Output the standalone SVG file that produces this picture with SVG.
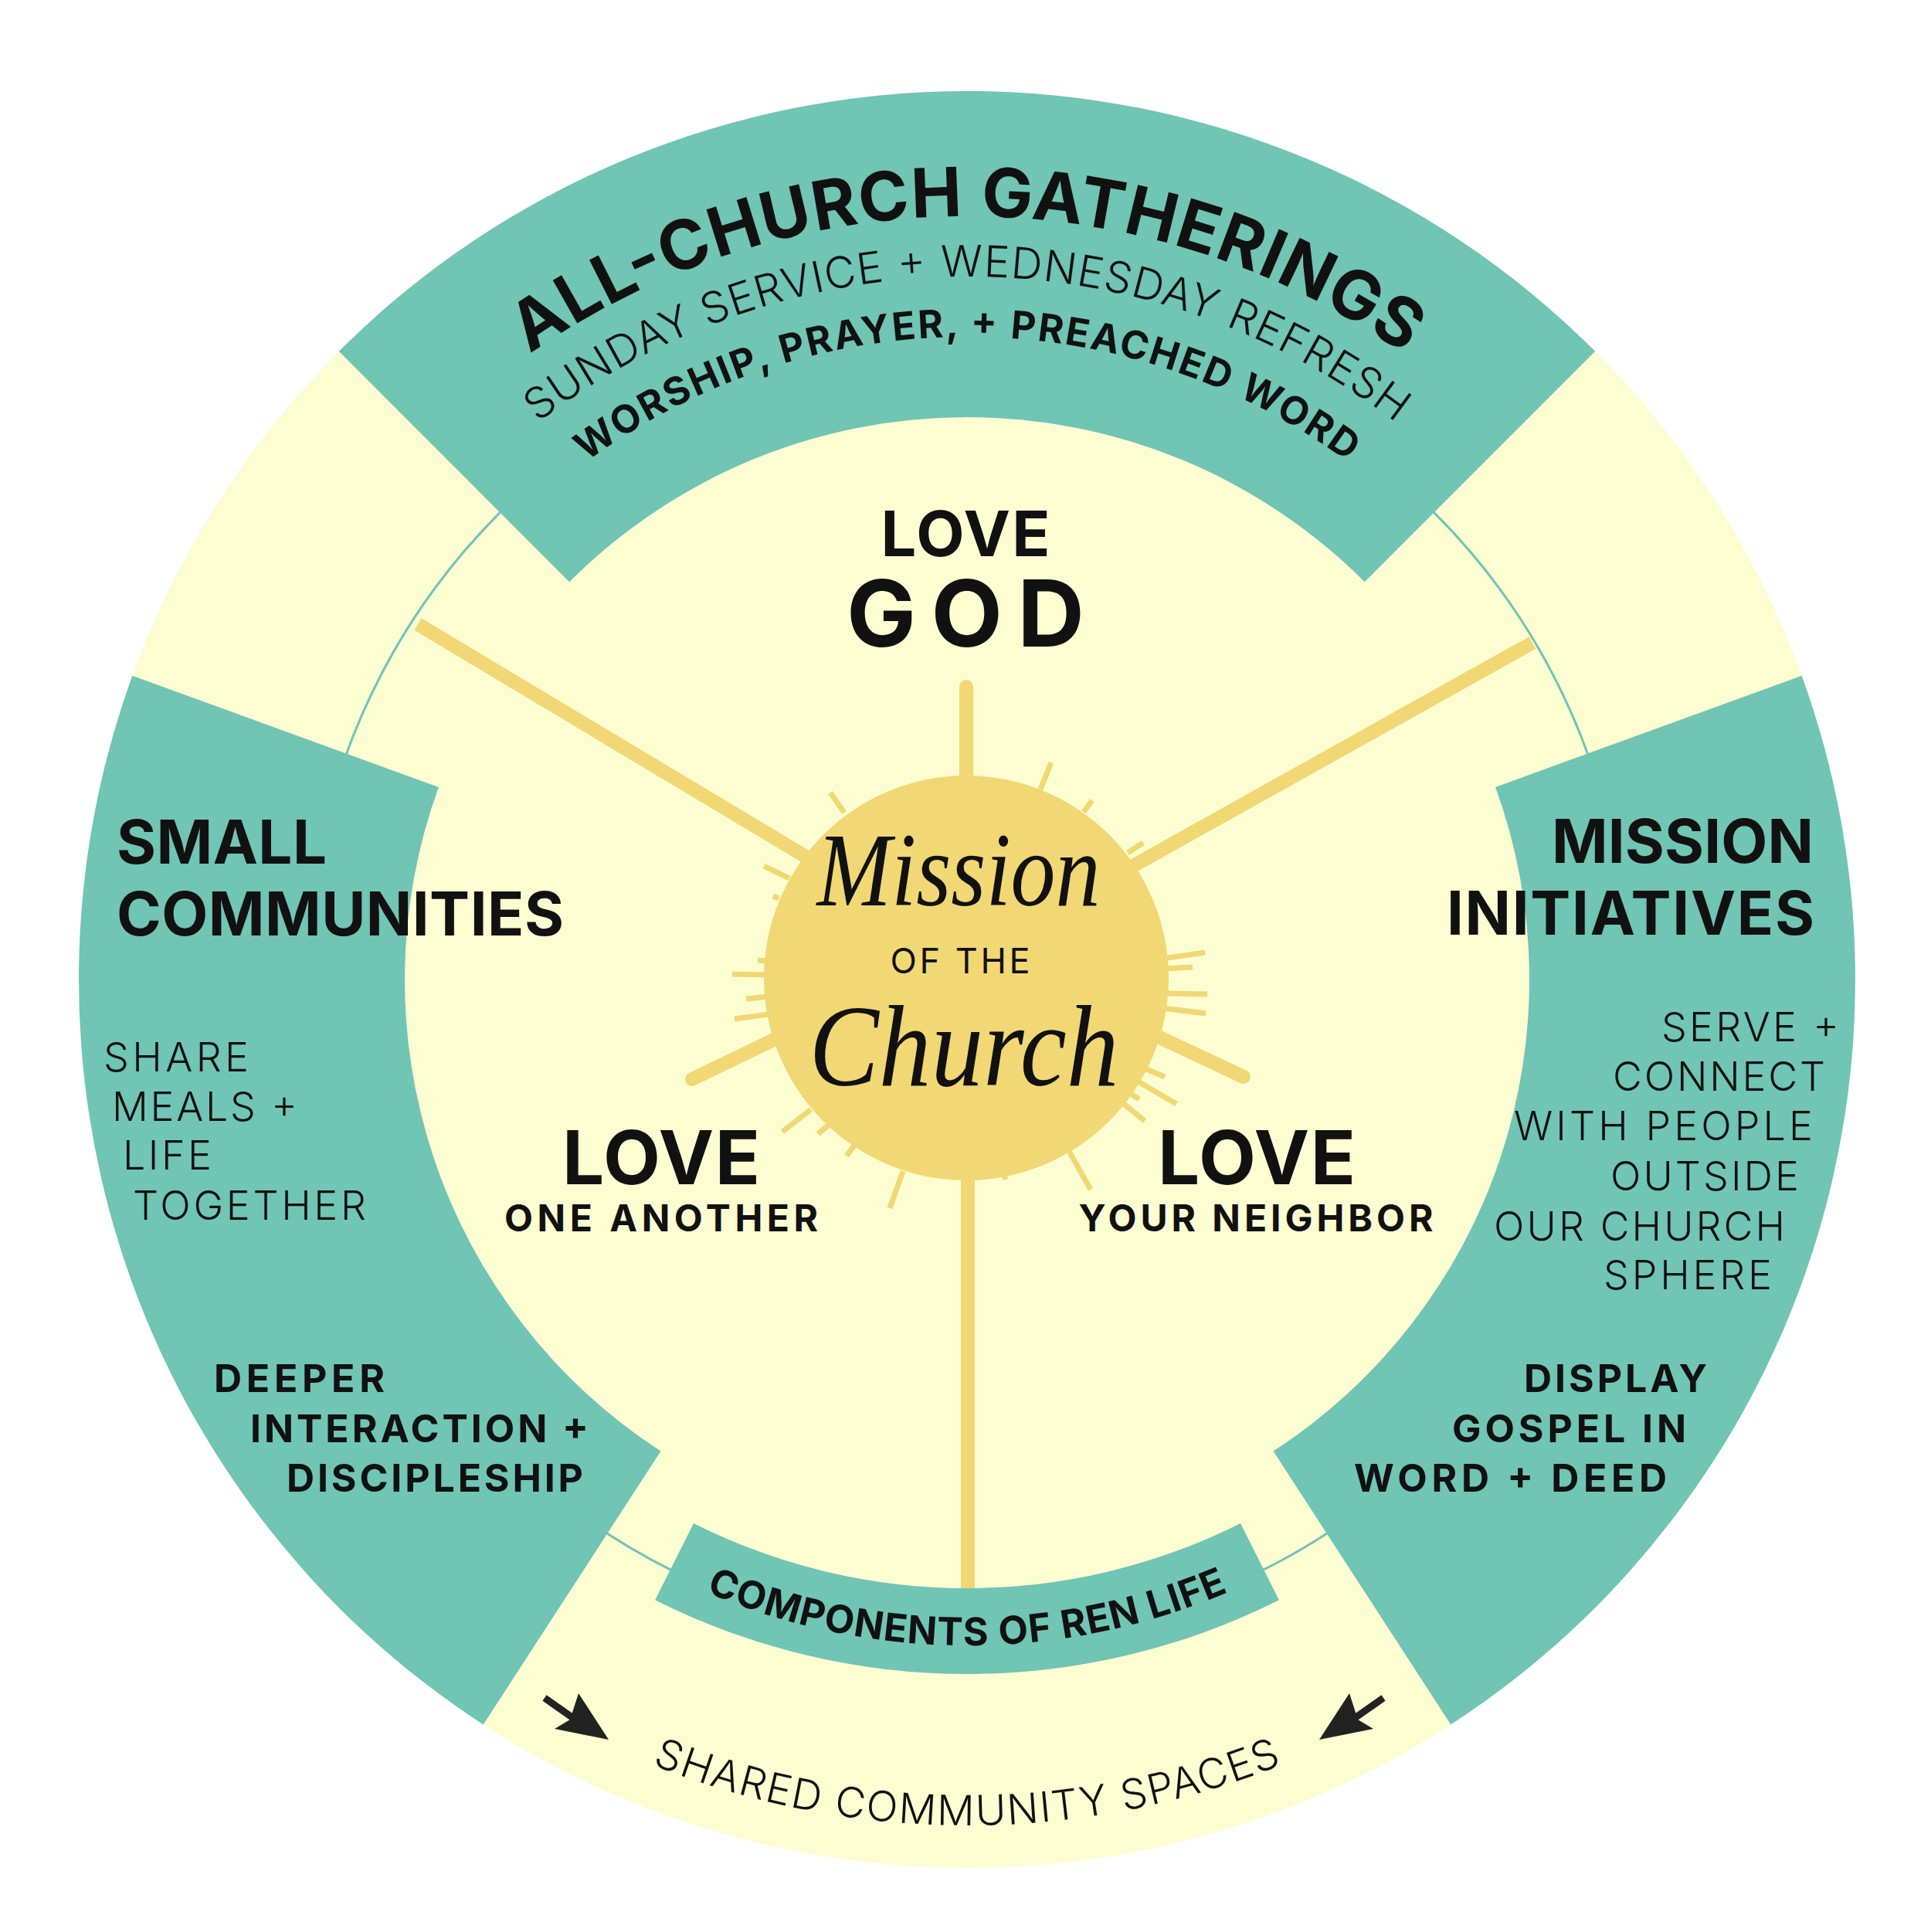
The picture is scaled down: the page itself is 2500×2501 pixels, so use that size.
<svg xmlns="http://www.w3.org/2000/svg" width="2500" height="2501" viewBox="0 0 2500 2501">
<style>
.teal{fill:#70C5B5}
.cream{fill:#FDFDD2}
.sun{fill:#F1D874}
.ray{stroke:#F1D874;stroke-width:18;fill:none}
.thin{stroke:#F1D874;stroke-width:7;fill:none}
.ring{stroke:#70C5B5;stroke-width:3;fill:none}
text{font-family:Inter,"Noto Sans","Liberation Sans",sans-serif;fill:#111}
.b{font-weight:700}
.l{font-weight:300}
.script{font-family:"Liberation Serif","DejaVu Serif",serif;font-style:italic;font-weight:400}
.arrow{fill:#222}
</style>
<defs>
<path id="pTop1" d="M 264,1268 A 988 988 0 0 1 2240,1268"/>
<path id="pTop2" d="M 342,1268 A 910 910 0 0 1 2162,1268"/>
<path id="pTop3" d="M 420,1268 A 832 832 0 0 1 2084,1268"/>
<path id="pComp" d="M 390,1268 A 862 862 0 0 0 2114,1268"/>
<path id="pShared" d="M 157,1268 A 1095 1095 0 0 0 2347,1268"/>
</defs>
<rect width="2500" height="2501" fill="#FFFFFF"/>
<g id="background">
<circle class="cream" cx="1252" cy="1268" r="1150"/>
<circle class="ring" cx="1252" cy="1268" r="855"/>
</g>
<g id="all-church-gatherings">
<path class="teal" d="M 438.8,454.8 A 1150 1150 0 0 1 2065.2,454.8 L 1766.8,753.2 A 728 728 0 0 0 737.2,753.2 Z"/>
<text class="b" font-size="88"><textPath href="#pTop1" startOffset="50%" text-anchor="middle" textLength="1205" lengthAdjust="spacing">ALL-CHURCH GATHERINGS</textPath></text>
<text class="l" font-size="56"><textPath href="#pTop2" startOffset="50%" text-anchor="middle" textLength="1195" lengthAdjust="spacing">SUNDAY SERVICE + WEDNESDAY REFRESH</textPath></text>
<text class="b" font-size="50"><textPath href="#pTop3" startOffset="50%" text-anchor="middle" textLength="1055" lengthAdjust="spacing">WORSHIP, PRAYER, + PREACHED WORD</textPath></text>
</g>
<g id="small-communities">
<path class="teal" d="M 625.7,2232.5 A 1150 1150 0 0 1 171.4,874.7 L 567.9,1019 A 728 728 0 0 0 855.5,1878.6 Z"/>
<text class="b" font-size="78" x="151" y="1118" textLength="272" lengthAdjust="spacing">SMALL</text>
<text class="b" font-size="78" x="151" y="1211" textLength="579" lengthAdjust="spacing">COMMUNITIES</text>
<text class="l" font-size="52" x="134" y="1387" textLength="188" lengthAdjust="spacing">SHARE</text>
<text class="l" font-size="52" x="145" y="1451" textLength="240" lengthAdjust="spacing">MEALS +</text>
<text class="l" font-size="52" x="159" y="1514" textLength="115" lengthAdjust="spacing">LIFE</text>
<text class="l" font-size="52" x="172" y="1579" textLength="302" lengthAdjust="spacing">TOGETHER</text>
<text class="b" font-size="50" x="277" y="1802" textLength="221" lengthAdjust="spacing">DEEPER</text>
<text class="b" font-size="50" x="324" y="1867" textLength="438" lengthAdjust="spacing">INTERACTION +</text>
<text class="b" font-size="50" x="371" y="1931" textLength="384" lengthAdjust="spacing">DISCIPLESHIP</text>
</g>
<g id="mission-initiatives">
<path class="teal" d="M 2332.6,874.7 A 1150 1150 0 0 1 1878.3,2232.5 L 1648.5,1878.6 A 728 728 0 0 0 1936.1,1019 Z"/>
<text class="b" font-size="78" x="2009" y="1117" textLength="339" lengthAdjust="spacing">MISSION</text>
<text class="b" font-size="78" x="1873" y="1210" textLength="476" lengthAdjust="spacing">INITIATIVES</text>
<text class="l" font-size="52" x="2151" y="1348" textLength="230" lengthAdjust="spacing">SERVE +</text>
<text class="l" font-size="52" x="2088" y="1412" textLength="275" lengthAdjust="spacing">CONNECT</text>
<text class="l" font-size="52" x="1960" y="1476" textLength="387" lengthAdjust="spacing">WITH PEOPLE</text>
<text class="l" font-size="52" x="2085" y="1541" textLength="244" lengthAdjust="spacing">OUTSIDE</text>
<text class="l" font-size="52" x="1934" y="1606" textLength="377" lengthAdjust="spacing">OUR CHURCH</text>
<text class="l" font-size="52" x="2076" y="1669" textLength="218" lengthAdjust="spacing">SPHERE</text>
<text class="b" font-size="50" x="1973" y="1802" textLength="237" lengthAdjust="spacing">DISPLAY</text>
<text class="b" font-size="50" x="1880" y="1867" textLength="303" lengthAdjust="spacing">GOSPEL IN</text>
<text class="b" font-size="50" x="1753" y="1931" textLength="405" lengthAdjust="spacing">WORD + DEED</text>
</g>
<g id="components-of-ren-life">
<path class="teal" d="M 1655.9,2071.2 A 899 899 0 0 1 848.1,2071.2 L 898,1972 A 788 788 0 0 0 1606,1972 Z"/>
<text class="b" font-size="50"><textPath href="#pComp" startOffset="50%" text-anchor="middle" textLength="695" lengthAdjust="spacing">COMPONENTS OF REN LIFE</textPath></text>
</g>
<g id="connectors">
<line class="ray" x1="1251" y1="889" x2="1251" y2="1020" stroke-linecap="round"/>
<line class="ray" x1="1253" y1="1500" x2="1253" y2="2056"/>
<line class="ray" x1="541" y1="808" x2="1045" y2="1110"/>
<line class="ray" x1="1984" y1="832" x2="1465" y2="1122"/>
<line class="ray" x1="896" y1="1397" x2="1010" y2="1342" stroke-linecap="round"/>
<line class="ray" x1="1610" y1="1394" x2="1495" y2="1340" stroke-linecap="round"/>
<g id="small-rays">
<line class="thin" x1="1347" y1="1022" x2="1361" y2="987"/>
<line class="thin" x1="1403" y1="1051" x2="1414" y2="1036"/>
<line class="thin" x1="1460" y1="1104" x2="1480" y2="1091"/>
<line class="thin" x1="1505" y1="1241" x2="1560" y2="1233"/>
<line class="thin" x1="1505" y1="1254" x2="1544" y2="1252"/>
<line class="thin" x1="1505" y1="1286" x2="1563" y2="1287"/>
<line class="thin" x1="1505" y1="1305" x2="1561" y2="1312"/>
<line class="thin" x1="1484" y1="1384" x2="1508" y2="1394"/>
<line class="thin" x1="1475" y1="1401" x2="1523" y2="1429"/>
<line class="thin" x1="1464" y1="1416" x2="1475" y2="1423"/>
<line class="thin" x1="1455" y1="1429" x2="1482" y2="1451"/>
<line class="thin" x1="1384" y1="1490" x2="1412" y2="1540"/>
<line class="thin" x1="1299" y1="1518" x2="1302" y2="1527"/>
<line class="thin" x1="1169" y1="1516" x2="1152" y2="1564"/>
<line class="thin" x1="1106" y1="1483" x2="1096" y2="1496"/>
<line class="thin" x1="1074" y1="1455" x2="1059" y2="1468"/>
<line class="thin" x1="1050" y1="1436" x2="1013" y2="1465"/>
<line class="thin" x1="995" y1="1313" x2="951" y2="1319"/>
<line class="thin" x1="995" y1="1290" x2="966" y2="1293"/>
<line class="thin" x1="995" y1="1262" x2="948" y2="1261"/>
<line class="thin" x1="995" y1="1244" x2="981" y2="1243"/>
<line class="thin" x1="1008" y1="1163" x2="1001" y2="1160"/>
<line class="thin" x1="1022" y1="1137" x2="989" y2="1121"/>
<line class="thin" x1="1093" y1="1052" x2="1075" y2="1026"/>
</g>
<g id="arrow-left">
<line x1="705" y1="2198" x2="742" y2="2224" stroke="#222" stroke-width="9"/>
<polygon class="arrow" points="749,2192 788,2252 718,2238 738,2226"/>
</g>
<g id="arrow-right" transform="translate(2496,0) scale(-1,1)">
<line x1="705" y1="2198" x2="742" y2="2224" stroke="#222" stroke-width="9"/>
<polygon class="arrow" points="749,2192 788,2252 718,2238 738,2226"/>
</g>
</g>
<g id="mission-of-the-church">
<circle class="sun" cx="1251" cy="1266" r="262"/>
<text class="script" font-size="135" x="1241" y="1172" text-anchor="middle" textLength="367" lengthAdjust="spacingAndGlyphs">Mission</text>
<text font-size="45" x="1243" y="1260" text-anchor="middle" textLength="181" lengthAdjust="spacing">OF THE</text>
<text class="script" font-size="150" x="1248" y="1405" text-anchor="middle" textLength="401" lengthAdjust="spacingAndGlyphs">Church</text>
</g>
<g id="love-god">
<text class="b" font-size="81" x="1250" y="720" text-anchor="middle" textLength="219" lengthAdjust="spacing">LOVE</text>
<text class="b" font-size="120" x="1250" y="837" text-anchor="middle" textLength="308" lengthAdjust="spacing">GOD</text>
</g>
<g id="love-one-another">
<text class="b" font-size="96" x="856" y="1533" text-anchor="middle" textLength="256" lengthAdjust="spacing">LOVE</text>
<text class="b" font-size="48" x="856" y="1594" text-anchor="middle" textLength="406" lengthAdjust="spacing">ONE ANOTHER</text>
</g>
<g id="love-your-neighbor">
<text class="b" font-size="96" x="1627" y="1533" text-anchor="middle" textLength="256" lengthAdjust="spacing">LOVE</text>
<text class="b" font-size="48" x="1626" y="1594" text-anchor="middle" textLength="459" lengthAdjust="spacing">YOUR NEIGHBOR</text>
</g>
<g id="shared-community-spaces">
<text class="l" font-size="54"><textPath href="#pShared" startOffset="50%" text-anchor="middle" textLength="836" lengthAdjust="spacing">SHARED COMMUNITY SPACES</textPath></text>
</g>
</svg>
